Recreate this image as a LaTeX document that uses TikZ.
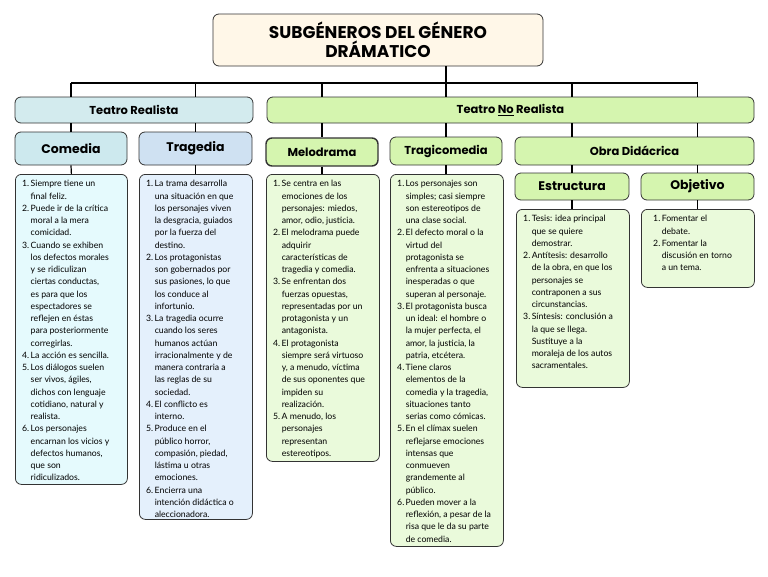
\documentclass[tikz,border=0pt]{standalone}
\usepackage{fontspec}
\setmainfont{Lato}
\newfontfamily\hfont{Poppins}
\definecolor{cTitle}{HTML}{FFF7E8}
\definecolor{cReal}{HTML}{D3EBEE}
\definecolor{cCom}{HTML}{CDE9EE}
\definecolor{cTra}{HTML}{CFE1F2}
\definecolor{cComB}{HTML}{E5FAFD}
\definecolor{cTraB}{HTML}{E4F0FC}
\definecolor{cGreen}{HTML}{D5F5AF}
\definecolor{cGreenB}{HTML}{EAFADB}
\newcommand{\bodyfont}{\fontsize{8.7}{12.25}\selectfont}
\newenvironment{items}{\bodyfont\begin{tabular}{@{}r@{\,}l@{}}}{\end{tabular}}
\begin{document}
\begin{tikzpicture}[x=1pt,y=-1pt,
  box/.style={draw=black!80,line width=0.8pt,rounded corners=6pt,inner sep=0pt},
  hdr/.style={box,font=\hfont\bfseries\fontsize{11.5}{13}\selectfont},
  bighdr/.style={hdr,font=\hfont\bfseries\fontsize{12.5}{14}\selectfont},
  conn/.style={line width=1.5pt,black},
  sub/.style={line width=1.2pt,black}]
\useasboundingbox (0,0) rectangle (768,576);
\newcommand{\cbox}[6]{\node[box,fill=#6,anchor=north west,minimum width=#4-#2,minimum height=#5-#3] (#1) at (#2,#3) {};}
% title
\node[box,fill=cTitle,minimum width=330,minimum height=52,align=center,font=\hfont\bfseries\fontsize{17}{19.5}\selectfont] (title) at (378,40) {SUBGÉNEROS DEL GÉNERO\\DRÁMATICO};
% level 1
\node[hdr,fill=cReal,minimum width=238,minimum height=26] (real) at (134,110) {Teatro Realista};
\node[hdr,fill=cGreen,minimum width=487,minimum height=26] (noreal) at (510.5,110) {Teatro \underline{No} Realista};
% level 2
\node[bighdr,fill=cCom,minimum width=112,minimum height=33] (com) at (71,148.5) {Comedia};
\node[bighdr,fill=cTra,minimum width=113,minimum height=33] (tra) at (195.5,148.5) {Tragedia};
\node[hdr,fill=cGreen,line width=1.4pt,minimum width=112,minimum height=28] (mel) at (322,152) {Melodrama};
\node[hdr,fill=cGreen,minimum width=112,minimum height=28] (tgc) at (446,151) {Tragicomedia};
\node[hdr,fill=cGreen,minimum width=239,minimum height=28] (obra) at (634.5,151) {Obra Didácrica};
\node[bighdr,fill=cGreen,minimum width=114,minimum height=27] (estr) at (572,186.5) {Estructura};
\node[bighdr,fill=cGreen,minimum width=113,minimum height=27] (obj) at (697.5,186.5) {Objetivo};
% content boxes
\cbox{comB}{15}{174}{127}{484}{cComB}
\cbox{traB}{139}{174}{252}{519}{cTraB}
\cbox{melB}{266}{174}{379}{461}{cGreenB}
\cbox{tgcB}{390}{174}{503}{546}{cGreenB}
\cbox{estrB}{516}{209}{629}{387}{cGreenB}
\cbox{objB}{641}{209}{754}{287}{cGreenB}
% texts
\node[anchor=north west,inner sep=0pt] (comT) at ([xshift=7,yshift=-4]comB.north west) {\begin{items}
1.&Siempre tiene un\\ &final feliz.\\
2.&Puede ir de la crítica\\ &moral a la mera\\ &comicidad.\\
3.&Cuando se exhiben\\ &los defectos morales\\ &y se ridiculizan\\ &ciertas conductas,\\ &es para que los\\ &espectadores se\\ &reflejen en éstas\\ &para posteriormente\\ &corregirlas.\\
4.&La acción es sencilla.\\
5.&Los diálogos suelen\\ &ser vivos, ágiles,\\ &dichos con lenguaje\\ &cotidiano, natural y\\ &realista.\\
6.&Los personajes\\ &encarnan los vicios y\\ &defectos humanos,\\ &que son\\ &ridiculizados.
\end{items}};
\node[anchor=north west,inner sep=0pt] (traT) at ([xshift=7,yshift=-4]traB.north west) {\begin{items}
1.&La trama desarrolla\\ &una situación en que\\ &los personajes viven\\ &la desgracia, guiados\\ &por la fuerza del\\ &destino.\\
2.&Los protagonistas\\ &son gobernados por\\ &sus pasiones, lo que\\ &los conduce al\\ &infortunio.\\
3.&La tragedia ocurre\\ &cuando los seres\\ &humanos actúan\\ &irracionalmente y de\\ &manera contraria a\\ &las reglas de su\\ &sociedad.\\
4.&El conflicto es\\ &interno.\\
5.&Produce en el\\ &público horror,\\ &compasión, piedad,\\ &lástima u otras\\ &emociones.\\
6.&Encierra una\\ &intención didáctica o\\ &aleccionadora.
\end{items}};
\node[anchor=north west,inner sep=0pt] (melT) at ([xshift=7,yshift=-4]melB.north west) {\begin{items}
1.&Se centra en las\\ &emociones de los\\ &personajes: miedos,\\ &amor, odio, justicia.\\
2.&El melodrama puede\\ &adquirir\\ &características de\\ &tragedia y comedia.\\
3.&Se enfrentan dos\\ &fuerzas opuestas,\\ &representadas por un\\ &protagonista y un\\ &antagonista.\\
4.&El protagonista\\ &siempre será virtuoso\\ &y, a menudo, víctima\\ &de sus oponentes que\\ &impiden su\\ &realización.\\
5.&A menudo, los\\ &personajes\\ &representan\\ &estereotipos.
\end{items}};
\node[anchor=north west,inner sep=0pt] (tgcT) at ([xshift=7,yshift=-4]tgcB.north west) {\begin{items}
1.&Los personajes son\\ &simples; casi siempre\\ &son estereotipos de\\ &una clase social.\\
2.&El defecto moral o la\\ &virtud del\\ &protagonista se\\ &enfrenta a situaciones\\ &inesperadas o que\\ &superan al personaje.\\
3.&El protagonista busca\\ &un ideal: el hombre o\\ &la mujer perfecta, el\\ &amor, la justicia, la\\ &patria, etcétera.\\
4.&Tiene claros\\ &elementos de la\\ &comedia y la tragedia,\\ &situaciones tanto\\ &serias como cómicas.\\
5.&En el clímax suelen\\ &reflejarse emociones\\ &intensas que\\ &conmueven\\ &grandemente al\\ &público.\\
6.&Pueden mover a la\\ &reflexión, a pesar de la\\ &risa que le da su parte\\ &de comedia.
\end{items}};
\node[anchor=north west,inner sep=0pt] (estrT) at ([xshift=7,yshift=-4]estrB.north west) {\begin{items}
1.&Tesis: idea principal\\ &que se quiere\\ &demostrar.\\
2.&Antítesis: desarrollo\\ &de la obra, en que los\\ &personajes se\\ &contraponen a sus\\ &circunstancias.\\
3.&Síntesis: conclusión a\\ &la que se llega.\\ &Sustituye a la\\ &moraleja de los autos\\ &sacramentales.
\end{items}};
\node[anchor=north west,inner sep=0pt] (objT) at ([xshift=12,yshift=-4]objB.north west) {\begin{items}
1.&Fomentar el\\ &debate.\\
2.&Fomentar la\\ &discusión en torno\\ &a un tema.
\end{items}};
% connectors
\coordinate (bus) at (0,83);
\draw[conn] (title.south -| tgc.north) -- (bus -| tgc.north);
\draw[conn] (bus -| com.north) -- (bus -| obj.north);
\foreach \n in {com,tra} \draw[conn] (bus -| \n.north) -- (real.north -| \n.north);
\foreach \n in {mel,tgc,estr,obj} \draw[conn] (bus -| \n.north) -- (noreal.north -| \n.north);
\foreach \n in {com,tra} \draw[sub] (real.south -| \n.north) -- (\n.north);
\foreach \n in {mel,tgc} \draw[sub] (noreal.south -| \n.north) -- (\n.north);
\foreach \n in {estr,obj} \draw[sub] (noreal.south -| \n.north) -- (obra.north -| \n.north);
\foreach \n in {estr,obj} \draw[sub] (obra.south -| \n.north) -- (\n.north);
\draw[sub] (com.south) -- (comB.north);
\draw[sub] (tra.south) -- (traB.north -| tra.south);
\draw[sub] (mel.south) -- (melB.north -| mel.south);
\draw[sub] (tgc.south) -- (tgcB.north -| tgc.south);
\draw[sub] (estr.south) -- (estrB.north -| estr.south);
\draw[sub] (obj.south) -- (objB.north -| obj.south);
\end{tikzpicture}
\end{document}
